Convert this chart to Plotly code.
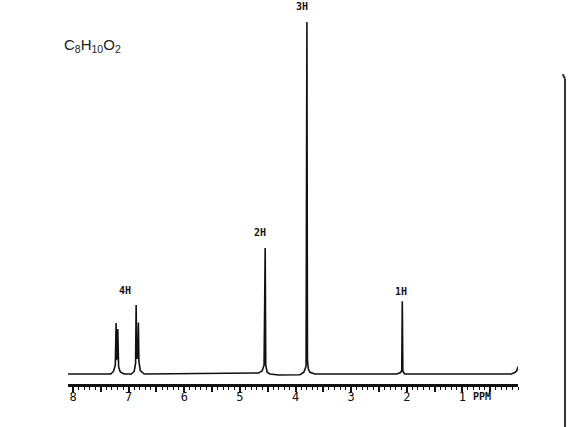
import plotly.graph_objs as go

# spectrum trace (ppm, relative intensity; tallest peak = 100)
ppm = [8.09, 7.32, 7.27, 7.24, 7.225, 7.22, 7.21, 7.195, 7.19, 7.18, 7.15, 7.08,
       6.95, 6.90, 6.875, 6.865, 6.855, 6.835, 6.825, 6.815, 6.79, 6.72,
       4.66, 4.60, 4.565, 4.545, 4.535, 4.51, 4.46, 4.30,
       3.92, 3.85, 3.81, 3.795, 3.785, 3.77, 3.74, 3.65,
       2.18, 2.11, 2.09, 2.08, 2.07, 2.04,
       0.12, 0.05, 0.02, 0.0]
intensity = [0, 0, 0.8, 2.5, 14.5, 4, 4.5, 12.8, 3.5, 2, 0.6, 0,
             0, 0.8, 3, 19.6, 4.5, 4.5, 14.6, 3.5, 1, 0,
             0.3, 0.9, 2.5, 35.8, 2.5, 0.5, 0, -0.3,
             -0.2, 0.5, 2.2, 100, 4, 1.5, 0.5, 0,
             0, 0.4, 1.0, 20.7, 0.8, 0,
             0, 0.5, 1.0, 2.1]

# integration labels
int_labels = ["4H", "2H", "3H", "1H"]
int_ppm = [7.07, 4.64, 3.89, 2.11]
int_height = [23.6, 40.3, 104.3, 23.3]

tick_ppm = [1, 2, 3, 4, 5, 6, 7, 8]

fig = go.Figure()
fig.add_trace(go.Scatter(x=ppm, y=intensity, mode='lines',
                         line=dict(color='#111111', width=1.6),
                         hoverinfo='skip', showlegend=False))

for lab, px, ph in zip(int_labels, int_ppm, int_height):
    fig.add_annotation(x=px, y=ph, text="<b>" + lab + "</b>", showarrow=False,
                       font=dict(family="DejaVu Sans Mono", size=10, color='#111111'))

half_vals = [v + 0.5 for v in range(0, 8)]
fig.update_xaxes(range=[8.09, 0.0], showgrid=False, zeroline=False,
                 showline=True, linecolor='#111111', linewidth=2.5,
                 tickvals=tick_ppm + half_vals,
                 ticktext=[str(v) for v in tick_ppm] + ["" for v in half_vals],
                 ticks='outside', ticklen=5, tickwidth=1.5, tickcolor='#111111',
                 ticklabelstandoff=-5,
                 tickfont=dict(family="DejaVu Sans Mono", size=12, color='#111111'),
                 minor=dict(dtick=0.1, ticks='outside', ticklen=3, tickwidth=1,
                            tickcolor='#111111', showgrid=False))
fig.update_yaxes(range=[-2.84, 106.25], visible=False, showgrid=False, zeroline=False)

fig.add_annotation(x=0.655, y=0, xref='x', yref='paper', yanchor='top', yshift=-5,
                   text="<b>PPM</b>", showarrow=False,
                   font=dict(family="DejaVu Sans Mono", size=10, color='#111111'))

fig.add_annotation(xref='paper', yref='paper', x=-0.013, y=0.911, xanchor='left',
                   text="C<sub>8</sub>H<sub>10</sub>O<sub>2</sub>", showarrow=False,
                   font=dict(family="Liberation Sans", size=15, color='#222222'))

# right frame edge of the scan
fig.add_shape(type='line', xref='paper', yref='paper',
              x0=1.1044, y0=0.795, x1=1.1044, y1=-0.12,
              line=dict(color='#333333', width=2))
fig.add_shape(type='line', xref='paper', yref='paper',
              x0=1.0995, y0=0.807, x1=1.1044, y1=0.795,
              line=dict(color='#333333', width=2))

fig.update_layout(width=568, height=427,
                  margin=dict(l=68, r=50, t=0, b=43),
                  paper_bgcolor='white', plot_bgcolor='white',
                  showlegend=False)

# drop the page's default body margin so the figure fills the window
fig.write_html("out.html", config={'displayModeBar': False},
               post_script="document.body.style.margin='0';document.body.style.overflow='hidden';")
